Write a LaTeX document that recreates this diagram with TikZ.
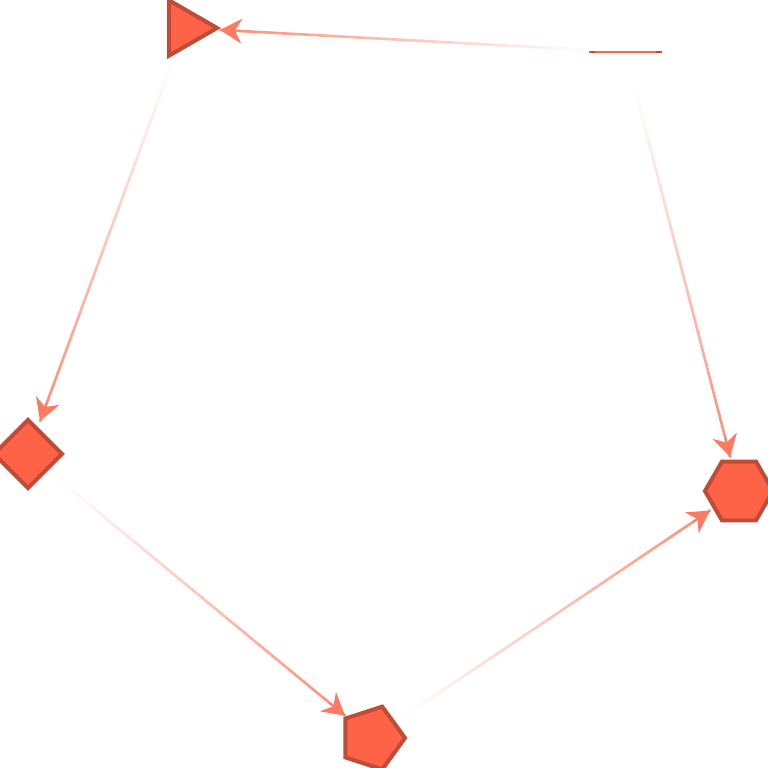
\documentclass[tikz,border=0pt]{standalone}
\usetikzlibrary{shapes.geometric,arrows.meta,calc}
\definecolor{nodefill}{RGB}{255,99,71}
\definecolor{nodeline}{RGB}{192,76,56}
\definecolor{edgecol}{RGB}{255,122,98}
\tikzset{
  poly/.style={regular polygon, draw=nodeline, fill=nodefill, line width=4pt, inner sep=0pt},
  edgeseg/.style={line width=2.6pt},
  tipstyle/.style={-{Stealth[length=22pt,width=25pt,inset=7pt]}, draw=edgecol, fill=edgecol, line width=1pt}
}
\newcommand{\gradedge}[2]{%
  \coordinate (gs) at ($(#1)!35pt!(#2)$);
  \coordinate (gt) at ($(#2)!35pt!(#1)$);
  \foreach \i in {0,...,39}{%
    \pgfmathsetmacro{\ta}{\i/40}%
    \pgfmathsetmacro{\tb}{(\i+1.05)/40}%
    \pgfmathsetmacro{\pc}{88*(\i+0.5)/40}%
    \draw[edgeseg, draw=edgecol!\pc!white] ($(gs)!\ta!(gt)$) -- ($(gs)!\tb!(gt)$);
  }
  \draw[tipstyle] ($(gt)!20pt!(gs)$) -- (gt);
}
\begin{document}
\begin{tikzpicture}[x=1pt,y=-1pt]
\fill[white] (0,0) rectangle (768,768);
\useasboundingbox (0,0) rectangle (768,768);
\clip (0,0) rectangle (768,768);
% nodes
\node[inner sep=0pt, minimum width=73pt, minimum height=2pt, fill=nodefill] (n2) at (625.5,52) {};
\node[poly, regular polygon sides=3, shape border rotate=-90, minimum size=64pt] (n3) at (185,28) {};
\node[poly, regular polygon sides=4, shape border rotate=45, minimum size=68pt] (n4) at (28,454) {};
\node[poly, regular polygon sides=5, shape border rotate=-90, minimum size=66pt] (n5) at (372,738) {};
\node[poly, regular polygon sides=6, minimum size=68pt] (n6) at (739,491) {};
\draw[nodeline, line width=2pt] (n2.west) -- ++(6,0);
\draw[nodeline, line width=2pt] (n2.east) -- ++(-6,0);
% connectors
\gradedge{n2}{n3}
\gradedge{n3}{n4}
\gradedge{n4}{n5}
\gradedge{n5}{n6}
\gradedge{n2}{n6}
\end{tikzpicture}
\end{document}
